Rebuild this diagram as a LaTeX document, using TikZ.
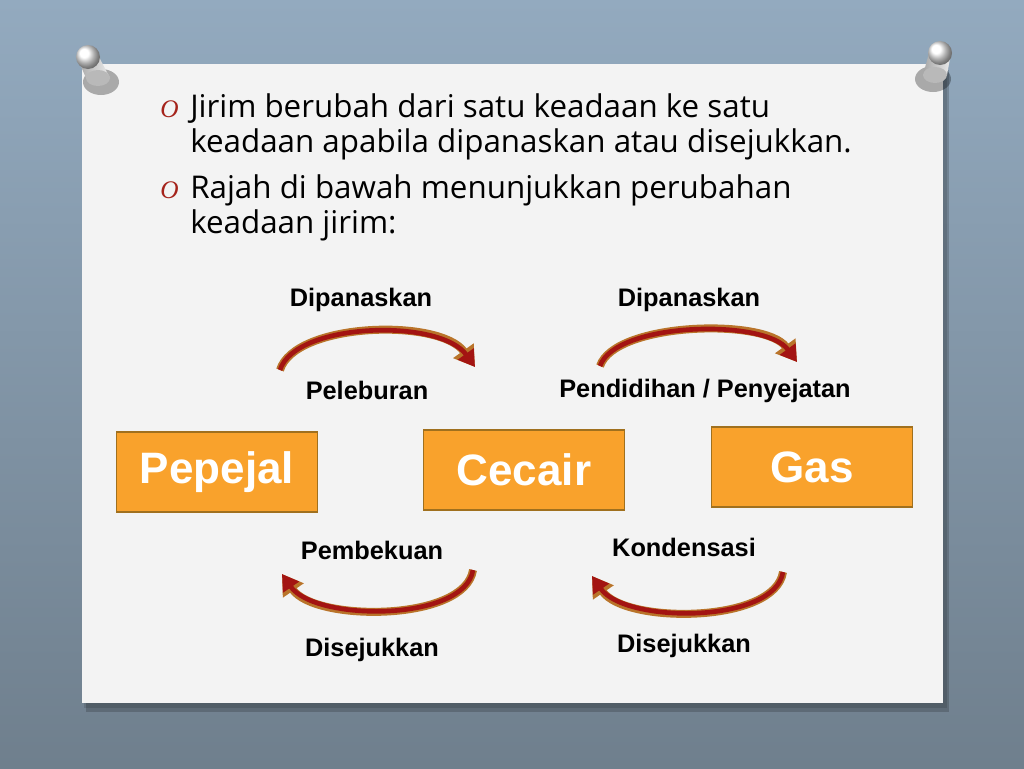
\documentclass[tikz,border=0pt]{standalone}
\usepackage{fontspec}
\usepackage{xcolor}
\usetikzlibrary{arrows.meta}
\newfontfamily\bodyfont{Open Sans}
\newfontfamily\labelfont{Liberation Sans}
\newfontfamily\bulletfont{Liberation Serif}

\definecolor{boardtop}{HTML}{93AABF}
\definecolor{boardbot}{HTML}{6F7F8D}
\definecolor{paper}{HTML}{F3F3F3}
\definecolor{boxfill}{HTML}{F9A22C}
\definecolor{boxline}{HTML}{A0701E}
\definecolor{bulletred}{HTML}{A5231B}
\definecolor{arrowred}{HTML}{A31412}
\definecolor{arrowedge}{HTML}{B9742A}

\tikzset{
  statebox/.style={draw=boxline, line width=1.2pt, fill=boxfill, text=white,
    minimum width=151pt, minimum height=60pt, inner sep=0pt,
    font=\labelfont\bfseries\fontsize{33}{36}\selectfont},
  proclabel/.style={font=\labelfont\bfseries\fontsize{19}{22}\selectfont},
  bodyline/.style={anchor=base west, inner sep=0pt,
    font=\bodyfont\fontsize{23.5}{28}\selectfont},
  bulletmark/.style={anchor=base west, inner sep=0pt, text=bulletred,
    font=\bulletfont\itshape\fontsize{19}{22}\selectfont},
  arrowback/.style={draw=arrowedge, line width=6pt, -{Triangle[length=15pt, width=18pt]}},
  arrowfront/.style={draw=arrowred, line width=3.5pt, -{Triangle[length=12pt, width=14pt]}}
}

\begin{document}
\begin{tikzpicture}[x=0.75pt, y=-0.75pt]
  \useasboundingbox (0,0) rectangle (1024,768);

  % Board and paper
  \shade[top color=boardtop, bottom color=boardbot] (0,0) rectangle (1024,768);
  \fill[black, opacity=0.18] (86,70) rectangle (949,712);
  \fill[black, opacity=0.12] (84,68) rectangle (947,708);
  \fill[paper] (82,64) rectangle (943,703);

  % Pins
  \fill[black, opacity=0.3] (101,82) ellipse (18 and 13);
  \shade[left color=gray!70, right color=gray!15] (77,57) -- (99,57) -- (110,78) -- (86,78) -- cycle;
  \fill[gray!55] (98,78) ellipse (12 and 8);
  \shade[ball color=white] (88,57) circle (12);
  \fill[black, opacity=0.3] (933,79) ellipse (18 and 13);
  \shade[left color=gray!70, right color=gray!15] (929,53) -- (951,53) -- (947,75) -- (923,75) -- cycle;
  \fill[gray!55] (935,75) ellipse (12 and 8);
  \shade[ball color=white] (940,53) circle (12);

  % Bullet text
  \node[bulletmark] (b1) at (160,117) {O};
  \node[bodyline] (l1) at (190,117) {Jirim berubah dari satu keadaan ke satu};
  \node[bodyline] (l2) at (190,152) {keadaan apabila dipanaskan atau disejukkan.};
  \node[bulletmark] (b2) at (160,198) {O};
  \node[bodyline] (l3) at (190,198) {Rajah di bawah menunjukkan perubahan};
  \node[bodyline] (l4) at (190,233) {keadaan jirim:};

  % States
  \node[statebox] (pepejal) at (217,472) {Pepejal};
  \node[statebox] (cecair) at (524,470) {Cecair};
  \node[statebox] (gas) at (812,467) {Gas};

  % Process labels
  \node[proclabel] (heat1) at (361,300) {Dipanaskan};
  \node[proclabel] (heat2) at (689,300) {Dipanaskan};
  \node[proclabel] (melt) at (367,390) {Peleburan};
  \node[proclabel] (boil) at (705,391) {Pendidihan / Penyejatan};
  \node[proclabel] (freeze) at (372,550) {Pembekuan};
  \node[proclabel] (cond) at (684,547) {Kondensasi};
  \node[proclabel] (cool1) at (372,650) {Disejukkan};
  \node[proclabel] (cool2) at (684,646) {Disejukkan};

  % Arrow ends
  \coordinate (m1) at (280,370);
  \coordinate (m2) at (475,367);
  \coordinate (v1) at (600,366);
  \coordinate (v2) at (797,362);
  \coordinate (f1) at (473,570);
  \coordinate (f2) at (282,574);
  \coordinate (c1) at (783,572);
  \coordinate (c2) at (592,576);

  % Curved arrows
  \foreach \sty in {arrowback, arrowfront} {
    \draw[\sty] (m1) .. controls (295,322) and (440,318) .. (m2);
    \draw[\sty] (v1) .. controls (615,322) and (765,318) .. (v2);
    \draw[\sty] (f1) .. controls (465,622) and (315,622) .. (f2);
    \draw[\sty] (c1) .. controls (775,624) and (625,624) .. (c2);
  }
\end{tikzpicture}
\end{document}
